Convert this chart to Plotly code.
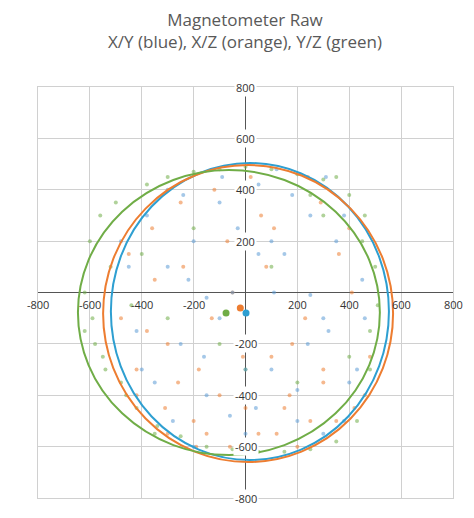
import plotly.graph_objects as go

# Sample raw readings
blue_x = [-450,-380,-300,-250,-200,-150,-100,-50,0,50,100,150,200,250,300,350,400,450,-420,-350,-280,-220,-160,-90,-30,40,110,180,240,310,380,430,-300,-200,-100,0,100,200,300,-150,50,250,-400,380,120,-60,-240,320,460,-480]
blue_y = [100,300,400,-200,200,-400,350,0,-550,420,-300,150,-500,300,-100,200,-350,50,-150,-350,-500,50,-250,450,250,-450,0,380,-200,450,-500,-300,100,-600,-100,-300,200,-380,-550,-20,150,-10,-300,300,480,-480,380,-150,-100,200]
orange_x = [-480,-420,-360,-300,-240,-180,-120,-60,0,60,120,180,240,300,360,420,480,-450,-380,-310,-250,-190,-130,-70,-10,50,110,170,230,290,350,410,-200,-100,0,100,200,-300,300,-50,150,-350,400,20,-150,250,-420,460,80,-260]
orange_y = [-100,-400,250,-550,100,-300,400,-600,-450,300,-550,-200,450,-350,150,-450,-250,150,-150,-450,350,-600,-100,200,-250,-550,250,-400,-100,350,-500,0,-500,-400,-620,-250,-600,-200,-300,0,-450,50,250,450,-550,-500,-300,-400,100,-350]
green_x = [-620,-600,-580,-560,-540,-500,-460,-420,-380,-340,-300,-250,-200,-150,-100,-50,0,50,100,150,200,250,300,350,400,430,460,480,500,-590,-550,-480,-400,-300,-200,-100,0,100,200,300,400,450,480,-520,-440,350,250,-350,-620,510]
green_y = [0,200,-200,300,-300,350,-400,-450,420,-520,450,-560,470,-600,480,-610,490,-620,480,-620,460,-610,440,-580,380,-500,300,-300,100,-100,-250,-350,150,-100,250,-200,-300,100,-350,300,-250,200,-150,100,-50,450,380,-550,-150,-50]

centers_x = [2, -20, -75]
centers_y = [-80, -60, -80]
cent_colors = ["#2e9fd1", "#ed7d31", "#70ad47"]

# fitted ellipses: x0, x1, y0, y1
fit_x0 = [-519, -549, -646]
fit_x1 = [553, 569, 518]
fit_y0 = [-652, -660, -633]
fit_y1 = [504, 496, 477]
fit_colors = ["#2e9fd1", "#ed7d31", "#70ad47"]

ticks = [-800, -600, -400, -200, 200, 400, 600, 800]

fig = go.Figure()
for xs, ys, c in [(green_x, green_y, "#70ad47"), (orange_x, orange_y, "#ed7d31"), (blue_x, blue_y, "#5b9bd5")]:
    fig.add_trace(go.Scatter(x=xs, y=ys, mode="markers",
                             marker=dict(size=4, color=c, opacity=0.55), showlegend=False))
fig.add_trace(go.Scatter(x=centers_x, y=centers_y, mode="markers",
                         marker=dict(size=7, color=cent_colors), showlegend=False))

for x0, x1, y0, y1, c in zip(fit_x0, fit_x1, fit_y0, fit_y1, fit_colors):
    fig.add_shape(type="circle", xref="x", yref="y", x0=x0, x1=x1, y0=y0, y1=y1,
                  line=dict(color=c, width=2))

for t in ticks:
    fig.add_annotation(x=t, y=0, text=str(t), showarrow=False, yshift=-12,
                       font=dict(size=11, color="#333"))
    fig.add_annotation(x=0, y=t, text=str(t), showarrow=False,
                       font=dict(size=11, color="#333"), bgcolor="white")

ax = dict(range=[-800, 800], dtick=200, showgrid=True, gridcolor="#d0d0d0",
          zeroline=True, zerolinecolor="#555", zerolinewidth=1,
          showticklabels=False, showline=True, linecolor="#d0d0d0", mirror=True)
fig.update_layout(
    width=474, height=518, plot_bgcolor="white", paper_bgcolor="white",
    margin=dict(l=30, r=29, t=79, b=28),
    title=dict(text="Magnetometer Raw<br>X/Y (blue), X/Z (orange), Y/Z (green)",
               x=0.5, xanchor="center", y=0.965, yanchor="top",
               font=dict(family="Open Sans, DejaVu Sans", size=17, color="#595959")),
    xaxis=ax, yaxis=ax,
    font=dict(family="Open Sans, DejaVu Sans"),
)
fig.write_html("out.html")
